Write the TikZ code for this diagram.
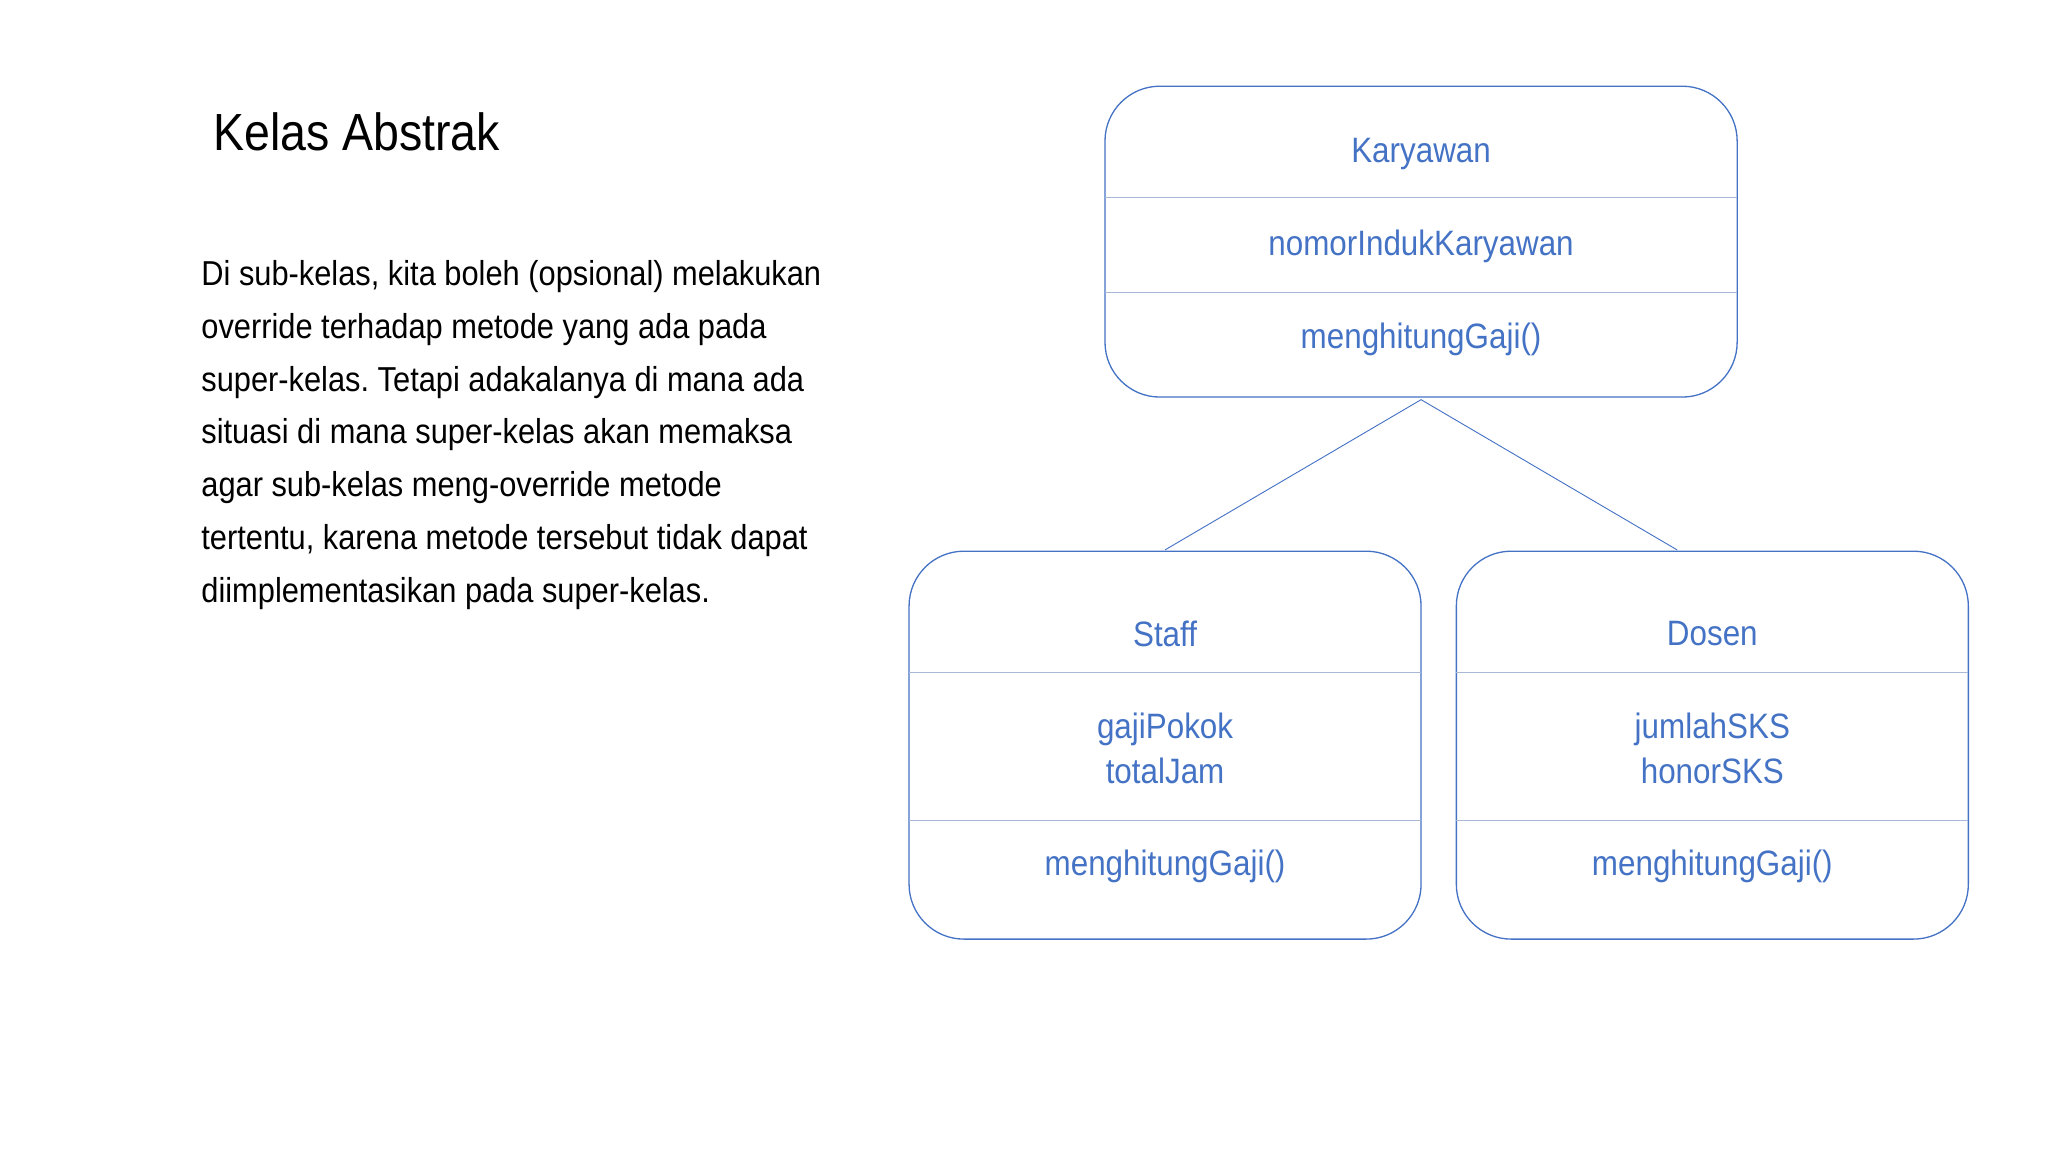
\documentclass[tikz,border=0pt]{standalone}
\usepackage{fontspec}
\setmainfont{Liberation Sans}[FakeStretch=0.89]
\definecolor{bl}{HTML}{4472C4}
\definecolor{dv}{HTML}{A9B8D6}
\frenchspacing
\begin{document}
\begin{tikzpicture}[x=1pt,y=-1pt,
 box/.style={draw=bl,line width=1pt,rounded corners=42pt},
 dvl/.style={draw=dv,line width=0.8pt},
 lbl/.style={text=bl,font=\fontsize{27}{35}\selectfont,align=center,inner sep=0pt},
 conn/.style={draw=bl,line width=0.7pt}]
\useasboundingbox (0,0) rectangle (1568,882);
\node[anchor=west,font=\fontsize{40}{48}\selectfont,inner sep=0pt] (title) at (163,101) {Kelas Abstrak};
\node[anchor=north west,align=left,font=\fontsize{26.5}{40.5}\selectfont,inner sep=0pt] (body) at (154,199) {Di sub-kelas, kita boleh (opsional) melakukan\\override terhadap metode yang ada pada\\super-kelas. Tetapi adakalanya di mana ada\\situasi di mana super-kelas akan memaksa\\agar sub-kelas meng-override metode\\tertentu, karena metode tersebut tidak dapat\\diimplementasikan pada super-kelas.};
% Karyawan
\draw[box] (846,66) rectangle (1330,304);
\draw[dvl] (846,151) -- (1330,151);
\draw[dvl] (846,224) -- (1330,224);
\node[lbl] (k1) at (1088,118) {Karyawan};
\node[lbl] (k2) at (1088,189) {nomorIndukKaryawan};
\node[lbl] (k3) at (1088,260) {menghitungGaji()};
\coordinate (ktop) at (1088,306);
% Staff
\draw[box] (696,422) rectangle (1088,719);
\draw[dvl] (696,515) -- (1088,515);
\draw[dvl] (696,628) -- (1088,628);
\node[lbl] (s1) at (892,485) {Staff};
\node[lbl] (s2) at (892,573) {gajiPokok\\totalJam};
\node[lbl] (s3) at (892,663) {menghitungGaji()};
\coordinate (stop) at (892,421);
% Dosen
\draw[box] (1115,422) rectangle (1507,719);
\draw[dvl] (1115,515) -- (1507,515);
\draw[dvl] (1115,628) -- (1507,628);
\node[lbl] (d1) at (1311,485) {Dosen};
\node[lbl] (d2) at (1311,573) {jumlahSKS\\honorSKS};
\node[lbl] (d3) at (1311,663) {menghitungGaji()};
\coordinate (dtop) at (1284,421);
\draw[conn] (stop) -- (ktop) -- (dtop);
\end{tikzpicture}
\end{document}
